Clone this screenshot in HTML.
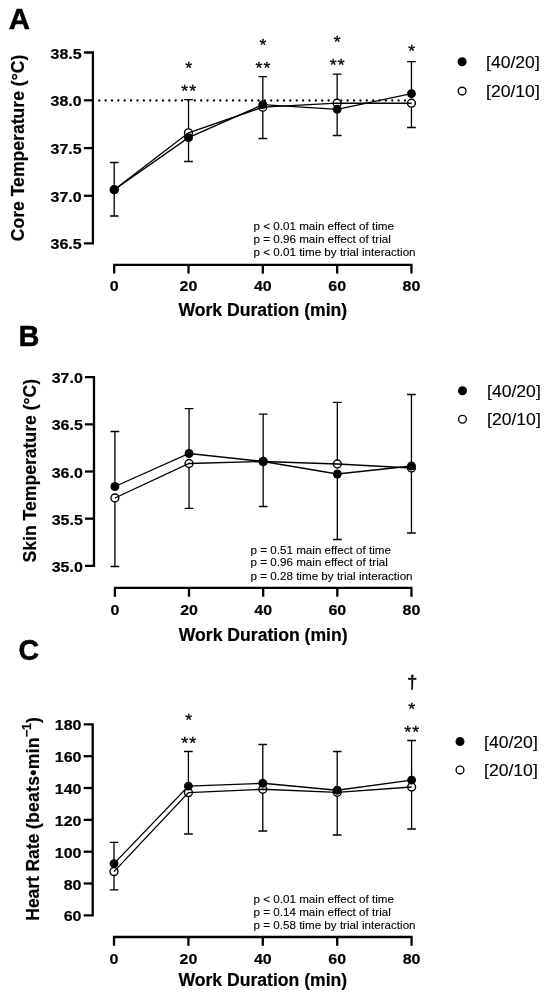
<!DOCTYPE html>
<html><head><meta charset="utf-8"><title>Figure</title>
<style>
html,body{margin:0;padding:0;background:#fff;}
svg{display:block;font-family:'Liberation Sans', sans-serif;}
.tk{font-size:16px;font-weight:bold;stroke:#000;stroke-width:0.2px;}
.ax{font-size:17.6px;font-weight:bold;stroke:#000;stroke-width:0.2px;}
.pl{font-size:30.2px;font-weight:bold;stroke:#000;stroke-width:0.5px;}
.lg{font-size:17.6px;stroke:#000;stroke-width:0.12px;}
.st{font-size:11.65px;stroke:#000;stroke-width:0.12px;}
.sr{font-size:16.5px;stroke:#000;stroke-width:0.3px;}
.dg{font-size:18px;stroke:#000;stroke-width:0.55px;}
</style></head><body>
<svg width="550" height="999" viewBox="0 0 550 999">
<rect width="550" height="999" fill="#fff"/>
<text transform="translate(8.75 29.2) scale(0.975 1)" class="pl">A</text>
<path d="M99.25 100.5H411.75" stroke="#000" stroke-width="2.3" stroke-linecap="round" stroke-dasharray="0 6.37" fill="none"/>
<path d="M83.90 52.50H92.90V243.40H83.90" stroke="#000" stroke-width="2.3" fill="none" stroke-linejoin="miter"/>
<path d="M83.90 100.30H92.90" stroke="#000" stroke-width="2.3"/>
<path d="M83.90 148.10H92.90" stroke="#000" stroke-width="2.3"/>
<path d="M83.90 195.80H92.90" stroke="#000" stroke-width="2.3"/>
<text transform="translate(81.70 58.50) scale(1 0.96)" text-anchor="end" class="tk">38.5</text>
<text transform="translate(81.70 106.30) scale(1 0.96)" text-anchor="end" class="tk">38.0</text>
<text transform="translate(81.70 154.10) scale(1 0.96)" text-anchor="end" class="tk">37.5</text>
<text transform="translate(81.70 201.80) scale(1 0.96)" text-anchor="end" class="tk">37.0</text>
<text transform="translate(81.70 249.40) scale(1 0.96)" text-anchor="end" class="tk">36.5</text>
<path d="M114.20 273.60V264.80H411.45V273.60" stroke="#000" stroke-width="2.3" fill="none"/>
<path d="M188.51 264.80V273.60" stroke="#000" stroke-width="2.3"/>
<path d="M262.82 264.80V273.60" stroke="#000" stroke-width="2.3"/>
<path d="M337.14 264.80V273.60" stroke="#000" stroke-width="2.3"/>
<text transform="translate(114.20 291.30) scale(1 0.96)" text-anchor="middle" class="tk">0</text>
<text transform="translate(188.51 291.30) scale(1 0.96)" text-anchor="middle" class="tk">20</text>
<text transform="translate(262.82 291.30) scale(1 0.96)" text-anchor="middle" class="tk">40</text>
<text transform="translate(337.14 291.30) scale(1 0.96)" text-anchor="middle" class="tk">60</text>
<text transform="translate(411.45 291.30) scale(1 0.96)" text-anchor="middle" class="tk">80</text>
<text transform="translate(262.82 315.60) scale(1 1)" text-anchor="middle" class="ax">Work Duration (min)</text>
<text transform="translate(24.10 148.00) rotate(-90) scale(1 1)" text-anchor="middle" class="ax">Core Temperature (°C)</text>
<path d="M114.20 162.50V189.70M114.20 189.70V216.00M109.85 162.50H118.55M109.85 216.00H118.55" stroke="#000" stroke-width="1.3" fill="none"/>
<path d="M188.51 99.60V132.80M188.51 137.70V161.50M184.16 99.60H192.86M184.16 161.50H192.86" stroke="#000" stroke-width="1.3" fill="none"/>
<path d="M262.82 76.70V104.60M262.82 107.20V138.50M258.47 76.70H267.18M258.47 138.50H267.18" stroke="#000" stroke-width="1.3" fill="none"/>
<path d="M337.14 74.10V103.20M337.14 109.30V135.50M332.79 74.10H341.49M332.79 135.50H341.49" stroke="#000" stroke-width="1.3" fill="none"/>
<path d="M411.45 61.60V93.70M411.45 103.20V127.50M407.10 61.60H415.80M407.10 127.50H415.80" stroke="#000" stroke-width="1.3" fill="none"/>
<circle cx="114.20" cy="189.70" r="3.95" fill="#fff" stroke="#000" stroke-width="1.4"/>
<circle cx="188.51" cy="132.80" r="3.95" fill="#fff" stroke="#000" stroke-width="1.4"/>
<circle cx="262.82" cy="107.20" r="3.95" fill="#fff" stroke="#000" stroke-width="1.4"/>
<circle cx="337.14" cy="103.20" r="3.95" fill="#fff" stroke="#000" stroke-width="1.4"/>
<circle cx="411.45" cy="103.20" r="3.95" fill="#fff" stroke="#000" stroke-width="1.4"/>
<polyline points="114.20,189.70 188.51,132.80 262.82,107.20 337.14,103.20 411.45,103.20" stroke="#000" stroke-width="1.35" fill="none"/>
<polyline points="114.20,189.70 188.51,137.70 262.82,104.60 337.14,109.30 411.45,93.70" stroke="#000" stroke-width="1.35" fill="none"/>
<circle cx="114.20" cy="189.70" r="4.45" fill="#000"/>
<circle cx="188.51" cy="137.70" r="4.45" fill="#000"/>
<circle cx="262.82" cy="104.60" r="4.45" fill="#000"/>
<circle cx="337.14" cy="109.30" r="4.45" fill="#000"/>
<circle cx="411.45" cy="93.70" r="4.45" fill="#000"/>
<circle cx="462.1" cy="61.7" r="4.5" fill="#000"/>
<circle cx="462.1" cy="91.1" r="3.9" fill="#fff" stroke="#000" stroke-width="1.35"/>
<text transform="translate(486.00 67.60) scale(1 0.95)" class="lg">[40/20]</text>
<text transform="translate(486.00 97.00) scale(1 0.95)" class="lg">[20/10]</text>
<text transform="translate(253.50 230.10) scale(1 0.94)" class="st">p &lt; 0.01 main effect of time</text>
<text transform="translate(253.50 243.40) scale(1 0.94)" class="st">p = 0.96 main effect of trial</text>
<text transform="translate(253.50 256.10) scale(1 0.94)" class="st">p &lt; 0.01 time by trial interaction</text>
<text transform="translate(188.71 74.00) scale(1.08 0.95)" text-anchor="middle" class="sr">*</text>
<text transform="translate(184.71 96.90) scale(1.08 0.95)" text-anchor="middle" class="sr">*</text>
<text transform="translate(192.71 96.90) scale(1.08 0.95)" text-anchor="middle" class="sr">*</text>
<text transform="translate(263.02 51.30) scale(1.08 0.95)" text-anchor="middle" class="sr">*</text>
<text transform="translate(259.02 74.40) scale(1.08 0.95)" text-anchor="middle" class="sr">*</text>
<text transform="translate(267.02 74.40) scale(1.08 0.95)" text-anchor="middle" class="sr">*</text>
<text transform="translate(337.34 48.20) scale(1.08 0.95)" text-anchor="middle" class="sr">*</text>
<text transform="translate(333.34 70.70) scale(1.08 0.95)" text-anchor="middle" class="sr">*</text>
<text transform="translate(341.34 70.70) scale(1.08 0.95)" text-anchor="middle" class="sr">*</text>
<text transform="translate(411.65 57.10) scale(1.08 0.95)" text-anchor="middle" class="sr">*</text>
<text transform="translate(18.4 346.0) scale(0.96 1)" class="pl">B</text>
<path d="M85.00 377.20H94.00V565.80H85.00" stroke="#000" stroke-width="2.3" fill="none" stroke-linejoin="miter"/>
<path d="M85.00 424.35H94.00" stroke="#000" stroke-width="2.3"/>
<path d="M85.00 471.50H94.00" stroke="#000" stroke-width="2.3"/>
<path d="M85.00 518.65H94.00" stroke="#000" stroke-width="2.3"/>
<text transform="translate(82.80 383.20) scale(1 0.96)" text-anchor="end" class="tk">37.0</text>
<text transform="translate(82.80 430.35) scale(1 0.96)" text-anchor="end" class="tk">36.5</text>
<text transform="translate(82.80 477.50) scale(1 0.96)" text-anchor="end" class="tk">36.0</text>
<text transform="translate(82.80 524.65) scale(1 0.96)" text-anchor="end" class="tk">35.5</text>
<text transform="translate(82.80 571.80) scale(1 0.96)" text-anchor="end" class="tk">35.0</text>
<path d="M114.90 596.70V587.90H411.45V596.70" stroke="#000" stroke-width="2.3" fill="none"/>
<path d="M189.04 587.90V596.70" stroke="#000" stroke-width="2.3"/>
<path d="M263.17 587.90V596.70" stroke="#000" stroke-width="2.3"/>
<path d="M337.31 587.90V596.70" stroke="#000" stroke-width="2.3"/>
<text transform="translate(114.90 614.70) scale(1 0.96)" text-anchor="middle" class="tk">0</text>
<text transform="translate(189.04 614.70) scale(1 0.96)" text-anchor="middle" class="tk">20</text>
<text transform="translate(263.17 614.70) scale(1 0.96)" text-anchor="middle" class="tk">40</text>
<text transform="translate(337.31 614.70) scale(1 0.96)" text-anchor="middle" class="tk">60</text>
<text transform="translate(411.45 614.70) scale(1 0.96)" text-anchor="middle" class="tk">80</text>
<text transform="translate(263.17 640.50) scale(1 1)" text-anchor="middle" class="ax">Work Duration (min)</text>
<text transform="translate(35.60 470.70) rotate(-90) scale(1 1)" text-anchor="middle" class="ax">Skin Temperature (°C)</text>
<path d="M114.90 431.50V486.50M114.90 498.00V566.50M110.55 431.50H119.25M110.55 566.50H119.25" stroke="#000" stroke-width="1.3" fill="none"/>
<path d="M189.04 408.70V453.50M189.04 463.50V508.30M184.69 408.70H193.39M184.69 508.30H193.39" stroke="#000" stroke-width="1.3" fill="none"/>
<path d="M263.17 414.20V461.50M263.17 461.50V506.50M258.82 414.20H267.52M258.82 506.50H267.52" stroke="#000" stroke-width="1.3" fill="none"/>
<path d="M337.31 402.30V464.00M337.31 474.00V539.50M332.96 402.30H341.66M332.96 539.50H341.66" stroke="#000" stroke-width="1.3" fill="none"/>
<path d="M411.45 394.50V466.00M411.45 468.00V533.00M407.10 394.50H415.80M407.10 533.00H415.80" stroke="#000" stroke-width="1.3" fill="none"/>
<circle cx="114.90" cy="498.00" r="3.95" fill="#fff" stroke="#000" stroke-width="1.4"/>
<circle cx="189.04" cy="463.50" r="3.95" fill="#fff" stroke="#000" stroke-width="1.4"/>
<circle cx="263.17" cy="461.50" r="3.95" fill="#fff" stroke="#000" stroke-width="1.4"/>
<circle cx="337.31" cy="464.00" r="3.95" fill="#fff" stroke="#000" stroke-width="1.4"/>
<circle cx="411.45" cy="468.00" r="3.95" fill="#fff" stroke="#000" stroke-width="1.4"/>
<polyline points="114.90,498.00 189.04,463.50 263.17,461.50 337.31,464.00 411.45,468.00" stroke="#000" stroke-width="1.35" fill="none"/>
<polyline points="114.90,486.50 189.04,453.50 263.17,461.50 337.31,474.00 411.45,466.00" stroke="#000" stroke-width="1.35" fill="none"/>
<circle cx="114.90" cy="486.50" r="4.45" fill="#000"/>
<circle cx="189.04" cy="453.50" r="4.45" fill="#000"/>
<circle cx="263.17" cy="461.50" r="4.45" fill="#000"/>
<circle cx="337.31" cy="474.00" r="4.45" fill="#000"/>
<circle cx="411.45" cy="466.00" r="4.45" fill="#000"/>
<circle cx="462.5" cy="390.7" r="4.5" fill="#000"/>
<circle cx="462.5" cy="419.2" r="3.9" fill="#fff" stroke="#000" stroke-width="1.35"/>
<text transform="translate(487.00 396.60) scale(1 0.95)" class="lg">[40/20]</text>
<text transform="translate(487.00 425.10) scale(1 0.95)" class="lg">[20/10]</text>
<text transform="translate(250.50 553.70) scale(1 0.94)" class="st">p = 0.51 main effect of time</text>
<text transform="translate(250.50 566.30) scale(1 0.94)" class="st">p = 0.96 main effect of trial</text>
<text transform="translate(250.50 579.50) scale(1 0.94)" class="st">p = 0.28 time by trial interaction</text>
<text transform="translate(18.5 660.0) scale(0.945 1)" class="pl">C</text>
<path d="M83.70 724.40H92.70V915.30H83.70" stroke="#000" stroke-width="2.3" fill="none" stroke-linejoin="miter"/>
<path d="M83.70 756.20H92.70" stroke="#000" stroke-width="2.3"/>
<path d="M83.70 788.00H92.70" stroke="#000" stroke-width="2.3"/>
<path d="M83.70 819.85H92.70" stroke="#000" stroke-width="2.3"/>
<path d="M83.70 851.70H92.70" stroke="#000" stroke-width="2.3"/>
<path d="M83.70 883.50H92.70" stroke="#000" stroke-width="2.3"/>
<text transform="translate(81.50 730.40) scale(1 0.96)" text-anchor="end" class="tk">180</text>
<text transform="translate(81.50 762.20) scale(1 0.96)" text-anchor="end" class="tk">160</text>
<text transform="translate(81.50 794.00) scale(1 0.96)" text-anchor="end" class="tk">140</text>
<text transform="translate(81.50 825.85) scale(1 0.96)" text-anchor="end" class="tk">120</text>
<text transform="translate(81.50 857.70) scale(1 0.96)" text-anchor="end" class="tk">100</text>
<text transform="translate(81.50 889.50) scale(1 0.96)" text-anchor="end" class="tk">80</text>
<text transform="translate(81.50 921.30) scale(1 0.96)" text-anchor="end" class="tk">60</text>
<path d="M114.00 945.80V937.00H411.60V945.80" stroke="#000" stroke-width="2.3" fill="none"/>
<path d="M188.40 937.00V945.80" stroke="#000" stroke-width="2.3"/>
<path d="M262.80 937.00V945.80" stroke="#000" stroke-width="2.3"/>
<path d="M337.20 937.00V945.80" stroke="#000" stroke-width="2.3"/>
<text transform="translate(114.00 964.00) scale(1 0.96)" text-anchor="middle" class="tk">0</text>
<text transform="translate(188.40 964.00) scale(1 0.96)" text-anchor="middle" class="tk">20</text>
<text transform="translate(262.80 964.00) scale(1 0.96)" text-anchor="middle" class="tk">40</text>
<text transform="translate(337.20 964.00) scale(1 0.96)" text-anchor="middle" class="tk">60</text>
<text transform="translate(411.60 964.00) scale(1 0.96)" text-anchor="middle" class="tk">80</text>
<text transform="translate(262.80 985.60) scale(1 1)" text-anchor="middle" class="ax">Work Duration (min)</text>
<text transform="translate(39.0 717.16) rotate(-90)" text-anchor="end" class="ax"><tspan letter-spacing="-0.12">Heart Rate </tspan><tspan letter-spacing="0.25">(beats•min</tspan><tspan dy="-8" font-size="12.5">−1</tspan><tspan dy="8">)</tspan></text>
<path d="M114.00 842.40V863.60M114.00 871.60V889.80M109.65 842.40H118.35M109.65 889.80H118.35" stroke="#000" stroke-width="1.3" fill="none"/>
<path d="M188.40 751.50V786.10M188.40 792.60V834.00M184.05 751.50H192.75M184.05 834.00H192.75" stroke="#000" stroke-width="1.3" fill="none"/>
<path d="M262.80 744.50V783.30M262.80 789.30V831.00M258.45 744.50H267.15M258.45 831.00H267.15" stroke="#000" stroke-width="1.3" fill="none"/>
<path d="M337.20 751.50V790.20M337.20 792.30V835.00M332.85 751.50H341.55M332.85 835.00H341.55" stroke="#000" stroke-width="1.3" fill="none"/>
<path d="M411.60 740.50V780.10M411.60 787.00V829.00M407.25 740.50H415.95M407.25 829.00H415.95" stroke="#000" stroke-width="1.3" fill="none"/>
<circle cx="114.00" cy="871.60" r="3.95" fill="#fff" stroke="#000" stroke-width="1.4"/>
<circle cx="188.40" cy="792.60" r="3.95" fill="#fff" stroke="#000" stroke-width="1.4"/>
<circle cx="262.80" cy="789.30" r="3.95" fill="#fff" stroke="#000" stroke-width="1.4"/>
<circle cx="337.20" cy="792.30" r="3.95" fill="#fff" stroke="#000" stroke-width="1.4"/>
<circle cx="411.60" cy="787.00" r="3.95" fill="#fff" stroke="#000" stroke-width="1.4"/>
<polyline points="114.00,871.60 188.40,792.60 262.80,789.30 337.20,792.30 411.60,787.00" stroke="#000" stroke-width="1.35" fill="none"/>
<polyline points="114.00,863.60 188.40,786.10 262.80,783.30 337.20,790.20 411.60,780.10" stroke="#000" stroke-width="1.35" fill="none"/>
<circle cx="114.00" cy="863.60" r="4.45" fill="#000"/>
<circle cx="188.40" cy="786.10" r="4.45" fill="#000"/>
<circle cx="262.80" cy="783.30" r="4.45" fill="#000"/>
<circle cx="337.20" cy="790.20" r="4.45" fill="#000"/>
<circle cx="411.60" cy="780.10" r="4.45" fill="#000"/>
<circle cx="460" cy="741.6" r="4.5" fill="#000"/>
<circle cx="460" cy="770.1" r="3.9" fill="#fff" stroke="#000" stroke-width="1.35"/>
<text transform="translate(484.00 747.50) scale(1 0.95)" class="lg">[40/20]</text>
<text transform="translate(484.00 776.00) scale(1 0.95)" class="lg">[20/10]</text>
<text transform="translate(253.50 902.50) scale(1 0.94)" class="st">p &lt; 0.01 main effect of time</text>
<text transform="translate(253.50 915.50) scale(1 0.94)" class="st">p = 0.14 main effect of trial</text>
<text transform="translate(253.50 928.50) scale(1 0.94)" class="st">p = 0.58 time by trial interaction</text>
<text transform="translate(188.60 725.50) scale(1.08 0.95)" text-anchor="middle" class="sr">*</text>
<text transform="translate(184.60 749.40) scale(1.08 0.95)" text-anchor="middle" class="sr">*</text>
<text transform="translate(192.60 749.40) scale(1.08 0.95)" text-anchor="middle" class="sr">*</text>
<text x="412.20" y="688.00" text-anchor="middle" class="dg">†</text>
<text transform="translate(411.80 715.00) scale(1.08 0.95)" text-anchor="middle" class="sr">*</text>
<text transform="translate(407.80 737.80) scale(1.08 0.95)" text-anchor="middle" class="sr">*</text>
<text transform="translate(415.80 737.80) scale(1.08 0.95)" text-anchor="middle" class="sr">*</text>
</svg>
</body></html>
